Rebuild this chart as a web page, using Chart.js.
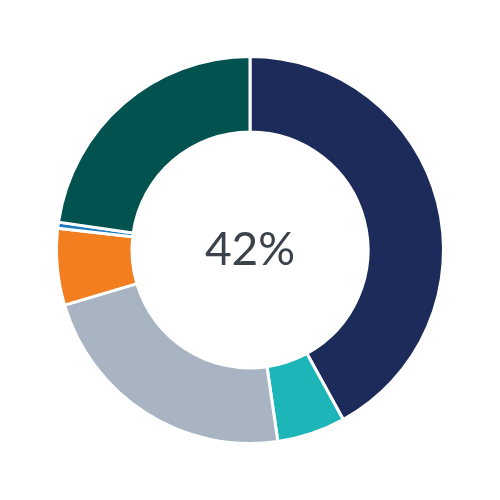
<!DOCTYPE html>
<html>
<head>
<meta charset="utf-8">
<script src="https://cdn.jsdelivr.net/npm/chart.js@4.4.1/dist/chart.umd.min.js"></script>
<style>
    html, body { margin: 0; padding: 0; background: #fff; }
    #wrap { width: 500px; height: 500px; position: relative; }
</style>
</head>
<body>
<div id="wrap"><canvas id="donut"></canvas></div>
<script>
// Données du graphique
const categories = ['Navy', 'Teal', 'Grey', 'Orange', 'Blue', 'Green'];
const shares = [42, 5.7, 22.7, 6.4, 0.5, 22.7];
const sliceColors = ['#1c2b5a', '#1cb5b8', '#a9b4c3', '#f27e20', '#1f7bbf', '#02534f'];
const centerLabel = '42%';

// Texte au centre
const centerText = {
    id: 'centerText',
    afterDraw(chart) {
        const { ctx } = chart;
        const meta = chart.getDatasetMeta(0).data[0];
        ctx.save();
        ctx.font = '46px Lato';
        ctx.fillStyle = '#3b424b';
        ctx.textAlign = 'center';
        ctx.textBaseline = 'middle';
        ctx.fillText(centerLabel, meta.x, meta.y);
        ctx.restore();
    }
};

new Chart(document.getElementById('donut'), {
    type: 'doughnut',
    data: {
        labels: categories,
        datasets: [{
            data: shares,
            backgroundColor: sliceColors,
            borderColor: '#fff',
            borderWidth: 3
        }]
    },
    options: {
        responsive: true,
        maintainAspectRatio: false,
        animation: false,
        cutout: '61%',
        layout: { padding: 55 },
        plugins: {
            legend: { display: false },
            tooltip: { enabled: false }
        }
    },
    plugins: [centerText]
});
</script>
</body>
</html>
